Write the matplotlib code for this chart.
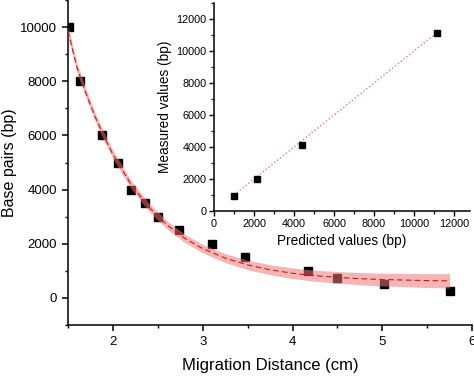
import numpy as np
import matplotlib
matplotlib.use('Agg')
import matplotlib.pyplot as plt
from matplotlib.ticker import MultipleLocator

plt.rcParams['font.family'] = ['Liberation Sans', 'DejaVu Sans']
plt.rcParams['axes.linewidth'] = 1.1

# marker data: migration distance (cm) vs base pairs (bp)
distance = [1.51, 1.63, 1.88, 2.06, 2.20, 2.36, 2.50, 2.74, 3.10, 3.47, 4.17, 4.49, 5.02, 5.75]
base_pairs = [10000, 8000, 6000, 5000, 4000, 3500, 3000, 2500, 2000, 1500, 1000, 750, 500, 250]

# fitted curve and confidence band
fit_x = [1.5, 1.6, 1.7, 1.8, 1.9, 2.0, 2.2, 2.4, 2.6, 2.8, 3.0, 3.25, 3.5, 3.75,
         4.0, 4.25, 4.5, 4.75, 5.0, 5.25, 5.5, 5.75]
fit_y = [9850, 8500, 7550, 6700, 5960, 5300, 4200, 3350, 2700, 2200, 1820, 1470, 1220, 1040,
         910, 820, 760, 710, 680, 660, 640, 630]
fit_band = [190, 170, 160, 155, 150, 150, 150, 150, 150, 150, 155, 165, 175, 185,
            195, 205, 215, 225, 235, 245, 255, 265]

# inset: predicted vs measured
predicted = [1000, 2150, 4400, 11150]
measured = [920, 2000, 4130, 11100]

fig = plt.figure(figsize=(4.74, 3.76), dpi=100)
ax = fig.add_axes([0.1435, 0.1356, 0.8525, 0.8644])

fx = np.array(fit_x)
fy = np.array(fit_y)
fb = np.array(fit_band)
ax.plot(distance, base_pairs, 's', color='black', markersize=6, zorder=2)
ax.fill_between(fx, fy - fb, fy + fb, color='#f07878', alpha=0.55, lw=0, zorder=3)
ax.plot(fx, fy, color='#c81818', lw=0.8, dashes=(5, 3), zorder=4)

ax.set_xlim(1.5, 6.0)
ax.set_ylim(-1000, 11000)
ax.xaxis.set_major_locator(MultipleLocator(1))
ax.xaxis.set_minor_locator(MultipleLocator(0.5))
ax.yaxis.set_minor_locator(MultipleLocator(1000))
ax.set_yticks([0, 2000, 4000, 6000, 8000, 10000])
for s in ['top', 'right']:
    ax.spines[s].set_visible(False)
ax.tick_params(which='major', direction='out', length=4.5, width=1.1, labelsize=9.5)
ax.tick_params(which='minor', direction='out', length=2.5, width=1.0)
ax.set_xlabel('Migration Distance (cm)', fontsize=12, labelpad=7)
ax.set_ylabel('Base pairs (bp)', fontsize=11.5, labelpad=2)

# inset
ins = fig.add_axes([0.4515, 0.4388, 0.5401, 0.5532])
ins.plot([min(predicted), max(predicted)], [min(predicted), max(predicted)],
         ':', color='#e87a7a', lw=1.0, zorder=1)
ins.plot(predicted, measured, 's', color='black', markersize=4, zorder=2)
ins.set_xlim(0, 12800)
ins.set_ylim(0, 13000)
ins.xaxis.set_major_locator(MultipleLocator(2000))
ins.xaxis.set_minor_locator(MultipleLocator(1000))
ins.yaxis.set_major_locator(MultipleLocator(2000))
ins.yaxis.set_minor_locator(MultipleLocator(1000))
for s in ['top', 'right']:
    ins.spines[s].set_visible(False)
ins.patch.set_alpha(0)
ins.tick_params(which='major', direction='out', length=3.5, width=1.0, labelsize=7.8, pad=2)
ins.tick_params(which='minor', direction='out', length=2, width=0.9)
ins.set_xlabel('Predicted values (bp)', fontsize=9.8, labelpad=4)
ins.set_ylabel('Measured values (bp)', fontsize=9.8, labelpad=3)

fig.savefig('out.png', dpi=100)
